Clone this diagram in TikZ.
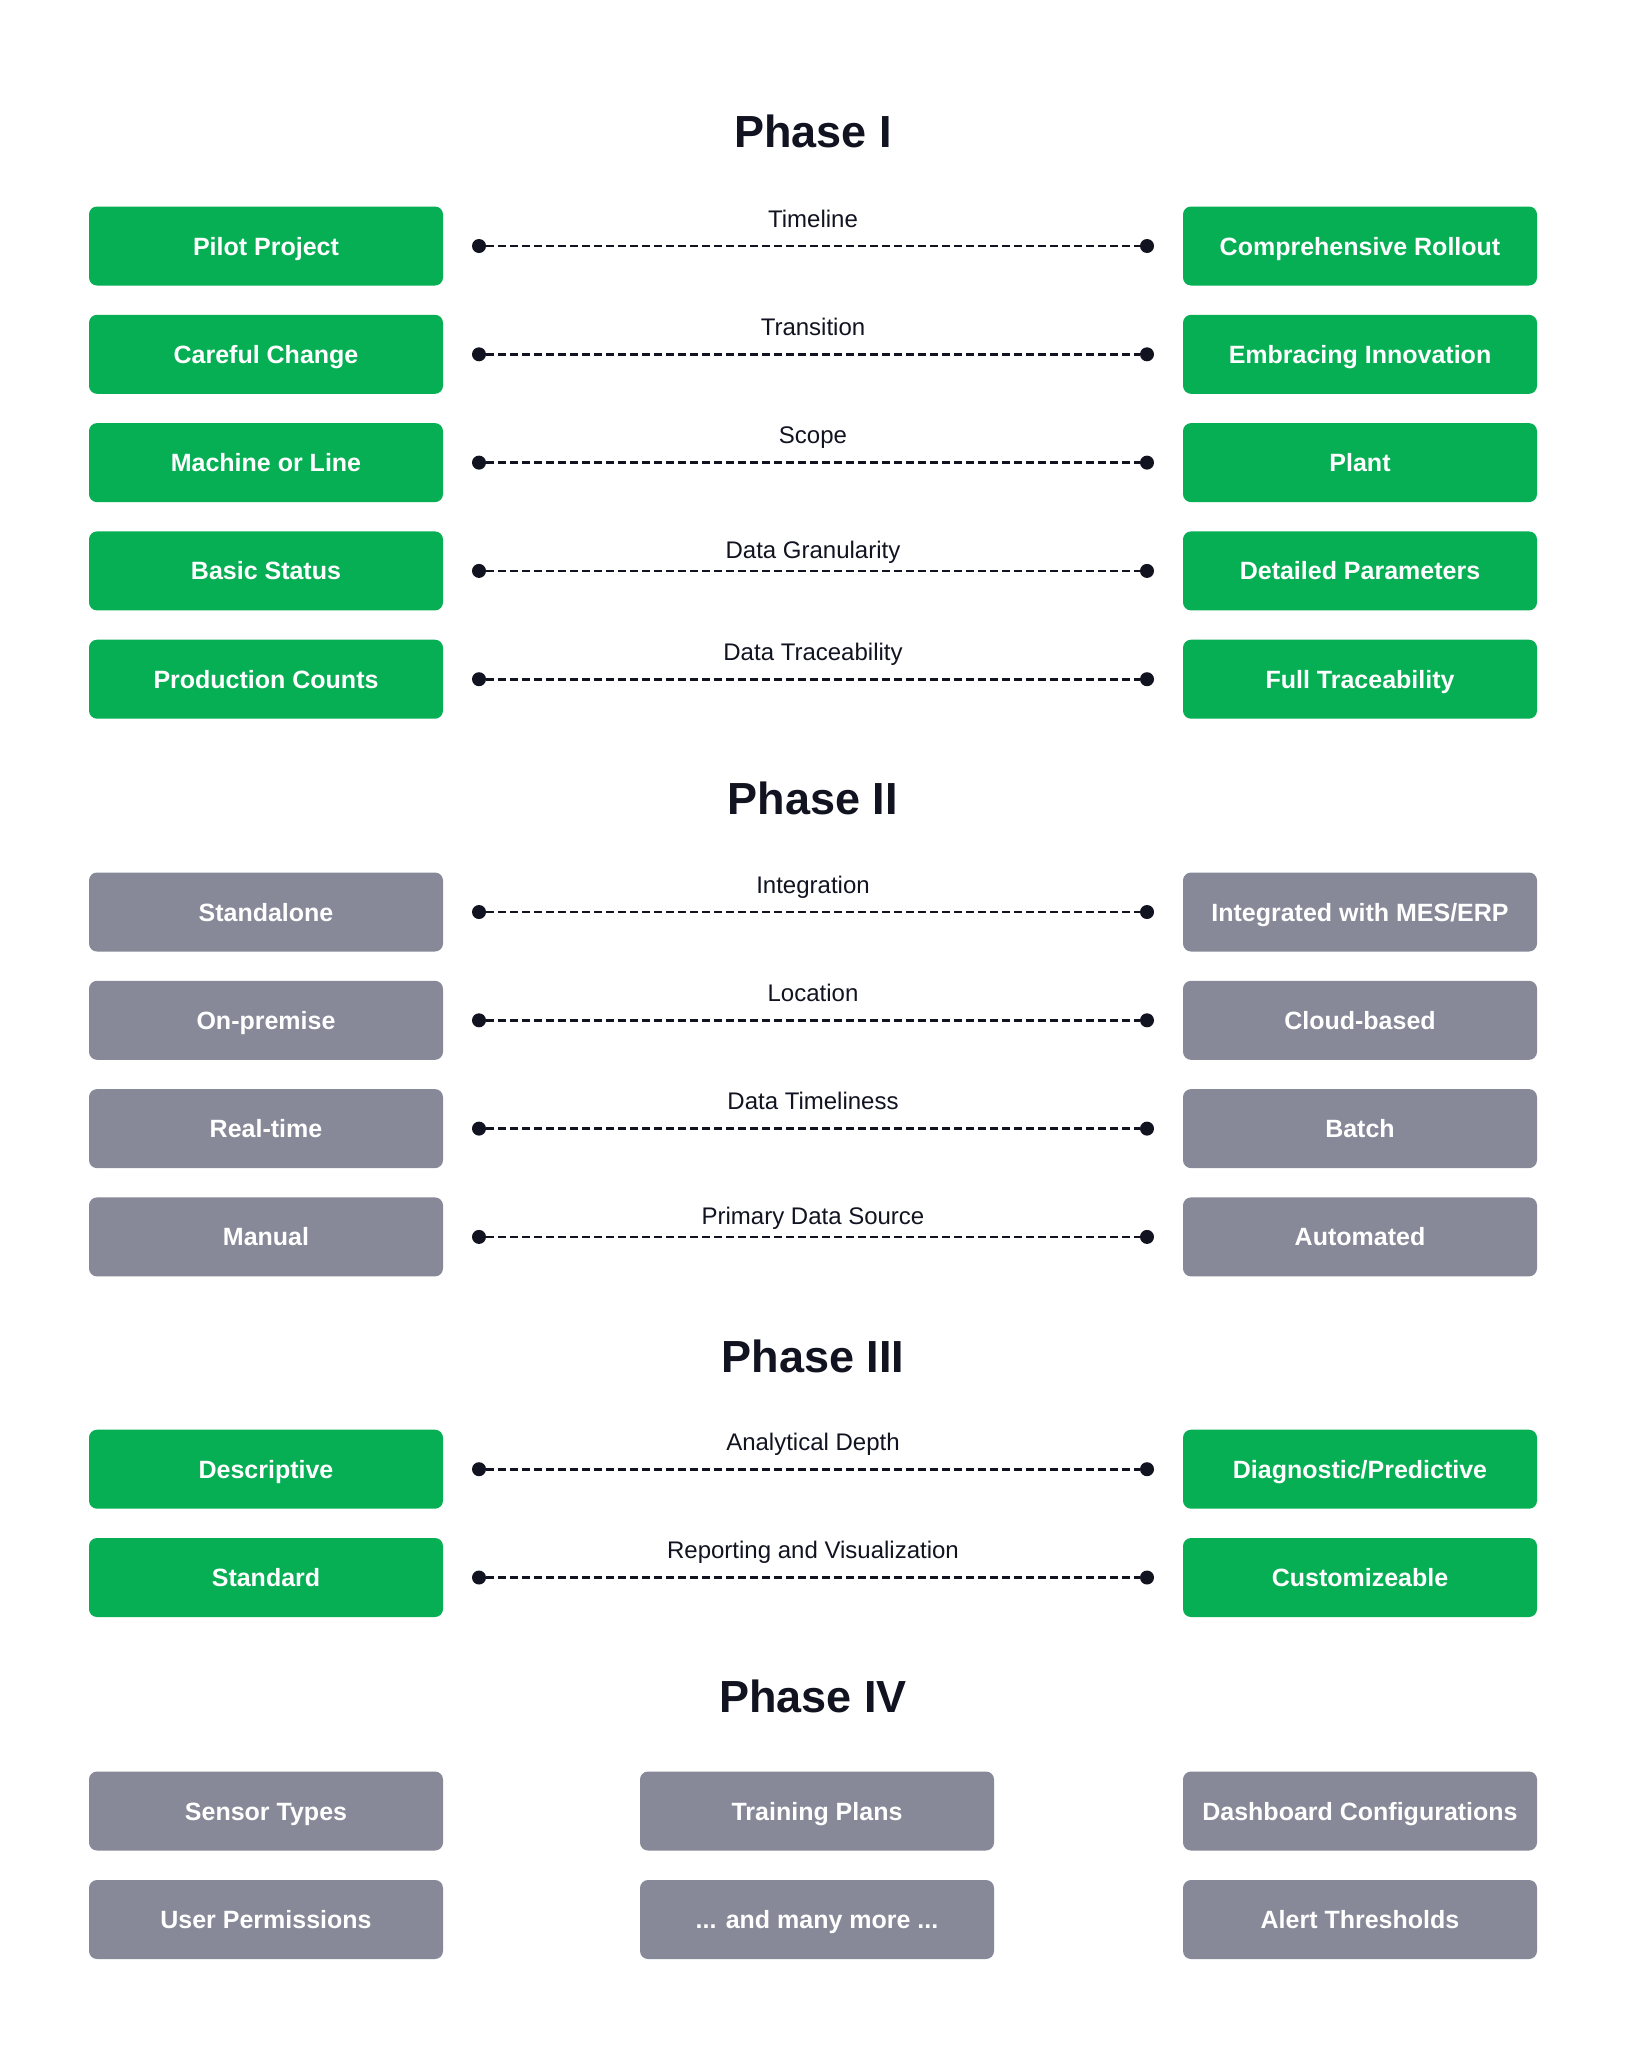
\documentclass[tikz,border=0pt]{standalone}
\usepackage{fontspec}
\setmainfont{Liberation Sans}
\definecolor{mygreen}{HTML}{06AF54}
\definecolor{mygray}{HTML}{878898}
\definecolor{ink}{HTML}{111320}
\begin{document}
\begin{tikzpicture}[x=1pt,y=-1pt,
  box/.style={rectangle, rounded corners=8pt, minimum width=354pt, minimum height=79pt,
    text=white, font=\fontsize{25}{30}\selectfont\bfseries, inner sep=0pt,
    text height=18pt, text depth=0pt},
  gbox/.style={box, fill=mygreen},
  kbox/.style={box, fill=mygray},
  phasetitle/.style={font=\fontsize{45}{54}\selectfont\bfseries, text=ink, anchor=base, inner sep=0pt},
  lab/.style={font=\fontsize{24}{29}\selectfont, text=ink, anchor=base, inner sep=0pt},
  dotnode/.style={circle, fill=ink, inner sep=0pt, minimum size=14pt},
  link/.style={draw=ink, line width=2.8pt, dash pattern=on 8pt off 4pt}]

\fill[white] (0,0) rectangle (1626,2048);
\useasboundingbox (0,0) rectangle (1626,2048);

% Phase I
\node[phasetitle] (t1) at (813,147) {Phase I};
\foreach \y/\l/\m/\r/\o [count=\i] in {
  246/Pilot Project/Timeline/Comprehensive Rollout/19,
  354.3/Careful Change/Transition/Embracing Innovation/19,
  462.6/Machine or Line/Scope/Plant/19,
  570.9/Basic Status/Data Granularity/Detailed Parameters/12,
  679.2/Production Counts/Data Traceability/Full Traceability/19} {
  \node[gbox] (pIL\i) at (266,\y) {\l};
  \node[gbox] (pIR\i) at (1360,\y) {\r};
  \node[dotnode] (pIa\i) at (479,\y) {};
  \node[dotnode] (pIb\i) at (1147,\y) {};
  \draw[link] (pIa\i) -- (pIb\i);
  \node[lab] (pIt\i) at (813,\y-\o) {\m};
}

% Phase II
\node[phasetitle] (t2) at (813,814) {Phase II};
\foreach \y/\l/\m/\r/\o [count=\i] in {
  912/Standalone/Integration/{Integrated with MES/ERP}/19,
  1020.3/On-premise/Location/Cloud-based/19,
  1128.6/Real-time/Data Timeliness/Batch/19,
  1236.9/Manual/Primary Data Source/Automated/12} {
  \node[kbox] (pIIL\i) at (266,\y) {\l};
  \node[kbox] (pIIR\i) at (1360,\y) {\r};
  \node[dotnode] (pIIa\i) at (479,\y) {};
  \node[dotnode] (pIIb\i) at (1147,\y) {};
  \draw[link] (pIIa\i) -- (pIIb\i);
  \node[lab] (pIIt\i) at (813,\y-\o) {\m};
}

% Phase III
\node[phasetitle] (t3) at (813,1372) {Phase III};
\foreach \y/\l/\m/\r/\o [count=\i] in {
  1469.2/Descriptive/Analytical Depth/{Diagnostic/Predictive}/19,
  1577.5/Standard/Reporting and Visualization/Customizeable/19} {
  \node[gbox] (pIIIL\i) at (266,\y) {\l};
  \node[gbox] (pIIIR\i) at (1360,\y) {\r};
  \node[dotnode] (pIIIa\i) at (479,\y) {};
  \node[dotnode] (pIIIb\i) at (1147,\y) {};
  \draw[link] (pIIIa\i) -- (pIIIb\i);
  \node[lab] (pIIIt\i) at (813,\y-\o) {\m};
}

% Phase IV
\node[phasetitle] (t4) at (813,1712) {Phase IV};
\node[kbox] (s1) at (266,1811) {Sensor Types};
\node[kbox] (s2) at (817,1811) {Training Plans};
\node[kbox] (s3) at (1360,1811) {Dashboard Configurations};
\node[kbox] (s4) at (266,1919.5) {User Permissions};
\node[kbox] (s5) at (817,1919.5) {... and many more ...};
\node[kbox] (s6) at (1360,1919.5) {Alert Thresholds};
\end{tikzpicture}
\end{document}
